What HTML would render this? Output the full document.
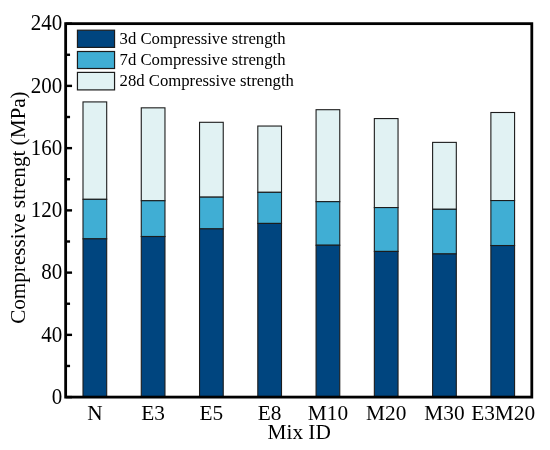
<!DOCTYPE html>
<html lang="en"><head><meta charset="utf-8"><title>Compressive strength by Mix ID</title>
<style>
html,body{margin:0;padding:0;background:#fff;}
svg{display:block;}
text{font-family:'Liberation Serif', 'Times New Roman', Times, serif;fill:#000;}
</style></head><body>
<svg width="550" height="450" viewBox="0 0 550 450">
<rect x="0" y="0" width="550" height="450" fill="#fff"/>
<g stroke="#1c1c1c" stroke-width="1.1">
<rect x="83.00" y="101.92" width="23.70" height="97.41" fill="#E1F2F3"/>
<rect x="83.00" y="199.33" width="23.70" height="39.52" fill="#40AED4"/>
<rect x="83.00" y="238.85" width="23.70" height="158.25" fill="#00457F"/>
</g>
<g stroke="#1c1c1c" stroke-width="1.1">
<rect x="141.27" y="107.83" width="23.70" height="92.90" fill="#E1F2F3"/>
<rect x="141.27" y="200.73" width="23.70" height="35.79" fill="#40AED4"/>
<rect x="141.27" y="236.52" width="23.70" height="160.58" fill="#00457F"/>
</g>
<g stroke="#1c1c1c" stroke-width="1.1">
<rect x="199.54" y="122.30" width="23.70" height="74.85" fill="#E1F2F3"/>
<rect x="199.54" y="197.15" width="23.70" height="31.74" fill="#40AED4"/>
<rect x="199.54" y="228.89" width="23.70" height="168.21" fill="#00457F"/>
</g>
<g stroke="#1c1c1c" stroke-width="1.1">
<rect x="257.81" y="126.04" width="23.70" height="66.29" fill="#E1F2F3"/>
<rect x="257.81" y="192.32" width="23.70" height="31.12" fill="#40AED4"/>
<rect x="257.81" y="223.45" width="23.70" height="173.65" fill="#00457F"/>
</g>
<g stroke="#1c1c1c" stroke-width="1.1">
<rect x="316.07" y="109.70" width="23.70" height="91.96" fill="#E1F2F3"/>
<rect x="316.07" y="201.66" width="23.70" height="43.57" fill="#40AED4"/>
<rect x="316.07" y="245.23" width="23.70" height="151.87" fill="#00457F"/>
</g>
<g stroke="#1c1c1c" stroke-width="1.1">
<rect x="374.34" y="118.57" width="23.70" height="89.01" fill="#E1F2F3"/>
<rect x="374.34" y="207.57" width="23.70" height="43.88" fill="#40AED4"/>
<rect x="374.34" y="251.45" width="23.70" height="145.65" fill="#00457F"/>
</g>
<g stroke="#1c1c1c" stroke-width="1.1">
<rect x="432.61" y="142.38" width="23.70" height="66.91" fill="#E1F2F3"/>
<rect x="432.61" y="209.29" width="23.70" height="44.66" fill="#40AED4"/>
<rect x="432.61" y="253.94" width="23.70" height="143.16" fill="#00457F"/>
</g>
<g stroke="#1c1c1c" stroke-width="1.1">
<rect x="490.88" y="112.50" width="23.70" height="88.07" fill="#E1F2F3"/>
<rect x="490.88" y="200.57" width="23.70" height="44.97" fill="#40AED4"/>
<rect x="490.88" y="245.54" width="23.70" height="151.56" fill="#00457F"/>
</g>
<line x1="65.65" y1="397.10" x2="72.05" y2="397.10" stroke="#000" stroke-width="2.4"/>
<line x1="65.65" y1="365.98" x2="70.05" y2="365.98" stroke="#000" stroke-width="2.4"/>
<line x1="65.65" y1="334.86" x2="72.05" y2="334.86" stroke="#000" stroke-width="2.4"/>
<line x1="65.65" y1="303.74" x2="70.05" y2="303.74" stroke="#000" stroke-width="2.4"/>
<line x1="65.65" y1="272.62" x2="72.05" y2="272.62" stroke="#000" stroke-width="2.4"/>
<line x1="65.65" y1="241.50" x2="70.05" y2="241.50" stroke="#000" stroke-width="2.4"/>
<line x1="65.65" y1="210.38" x2="72.05" y2="210.38" stroke="#000" stroke-width="2.4"/>
<line x1="65.65" y1="179.25" x2="70.05" y2="179.25" stroke="#000" stroke-width="2.4"/>
<line x1="65.65" y1="148.13" x2="72.05" y2="148.13" stroke="#000" stroke-width="2.4"/>
<line x1="65.65" y1="117.01" x2="70.05" y2="117.01" stroke="#000" stroke-width="2.4"/>
<line x1="65.65" y1="85.89" x2="72.05" y2="85.89" stroke="#000" stroke-width="2.4"/>
<line x1="65.65" y1="54.77" x2="70.05" y2="54.77" stroke="#000" stroke-width="2.4"/>
<line x1="65.65" y1="23.65" x2="72.05" y2="23.65" stroke="#000" stroke-width="2.4"/>
<rect x="65.65" y="23.65" width="466.15" height="373.45" fill="none" stroke="#000" stroke-width="2.8"/>
<text transform="translate(62.3,403.80) scale(1,1.05)" font-size="21" text-anchor="end">0</text>
<text transform="translate(62.3,341.56) scale(1,1.05)" font-size="21" text-anchor="end">40</text>
<text transform="translate(62.3,279.32) scale(1,1.05)" font-size="21" text-anchor="end">80</text>
<text transform="translate(62.3,217.07) scale(1,1.05)" font-size="21" text-anchor="end">120</text>
<text transform="translate(62.3,154.83) scale(1,1.05)" font-size="21" text-anchor="end">160</text>
<text transform="translate(62.3,92.59) scale(1,1.05)" font-size="21" text-anchor="end">200</text>
<text transform="translate(62.3,30.35) scale(1,1.05)" font-size="21" text-anchor="end">240</text>
<text x="94.85" y="419.6" font-size="21.3" text-anchor="middle">N</text>
<text x="153.12" y="419.6" font-size="21.3" text-anchor="middle">E3</text>
<text x="211.39" y="419.6" font-size="21.3" text-anchor="middle">E5</text>
<text x="269.66" y="419.6" font-size="21.3" text-anchor="middle">E8</text>
<text x="327.92" y="419.6" font-size="21.3" text-anchor="middle">M10</text>
<text x="386.19" y="419.6" font-size="21.3" text-anchor="middle">M20</text>
<text x="444.46" y="419.6" font-size="21.3" text-anchor="middle">M30</text>
<text x="503.13" y="419.6" font-size="21.3" text-anchor="middle">E3M20</text>
<text x="299.2" y="439" font-size="21.3" text-anchor="middle">Mix ID</text>
<text transform="translate(25.4,207.6) rotate(-90) scale(1,0.95)" font-size="21.15" text-anchor="middle">Compressive strengt (MPa)</text>
<rect x="77.45" y="30.20" width="37.1" height="17.20" fill="#00457F" stroke="#1c1c1c" stroke-width="1.2"/>
<text x="119.6" y="44.3" font-size="16.7">3d Compressive strength</text>
<rect x="77.45" y="51.50" width="37.1" height="17.00" fill="#40AED4" stroke="#1c1c1c" stroke-width="1.2"/>
<text x="119.6" y="64.9" font-size="16.7">7d Compressive strength</text>
<rect x="77.45" y="72.40" width="37.1" height="17.50" fill="#E1F2F3" stroke="#1c1c1c" stroke-width="1.2"/>
<text x="119.6" y="85.6" font-size="16.7">28d Compressive strength</text>
</svg></body></html>
